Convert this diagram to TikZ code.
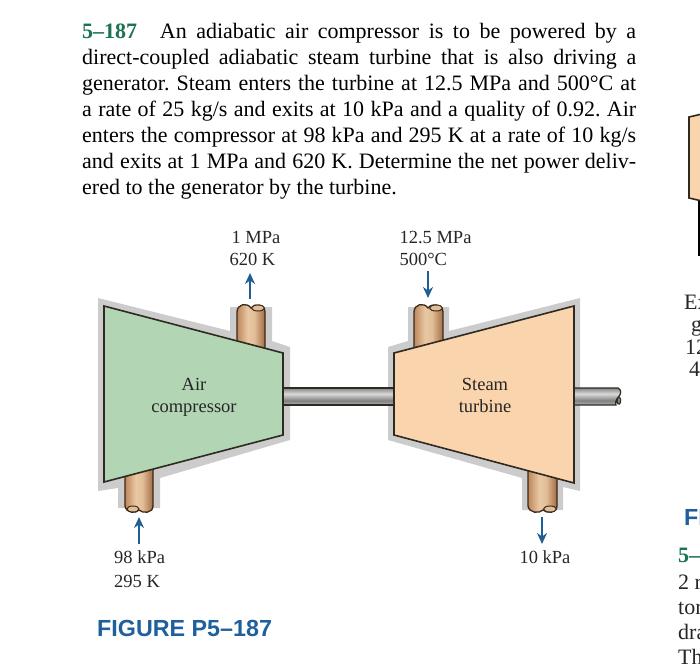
\documentclass[tikz,border=0pt]{standalone}
\usepackage{fontspec}
\setmainfont{Liberation Serif}
\newfontfamily\figfont{Liberation Sans}
\usetikzlibrary{arrows.meta}
\definecolor{probgreen}{HTML}{1B7350}
\definecolor{figblue}{HTML}{1F5F9E}
\definecolor{flowblue}{HTML}{1F5F94}
\definecolor{aircolor}{HTML}{B2D5B4}
\definecolor{steamcolor}{HTML}{FAD4AC}
\definecolor{backgray}{HTML}{CCCCCC}
\definecolor{outline}{HTML}{2E2A22}
\definecolor{pipeedge}{HTML}{3A2A1C}
\definecolor{mouthcolor}{HTML}{E2BE98}
\definecolor{pipeleft}{HTML}{BE8659}
\definecolor{pipelight}{HTML}{E8C8A4}
\definecolor{piperight}{HTML}{A46C42}
\pgfdeclarehorizontalshading{pipeshade}{100bp}{
    color(0bp)=(pipeleft); color(25bp)=(pipeleft);
    color(44bp)=(pipelight); color(56bp)=(pipelight!85!pipeleft);
    color(75bp)=(piperight); color(100bp)=(piperight)}
\pgfdeclareverticalshading{shaftshade}{100bp}{
    color(0bp)=(gray!60); color(25bp)=(gray!60); color(38bp)=(gray!100);
    color(58bp)=(gray!30); color(75bp)=(gray!95); color(100bp)=(gray!95)}
\tikzset{
    bodytext/.style={inner sep=0pt, font=\fontsize{22}{26}\selectfont},
    sidetext/.style={inner sep=0pt, anchor=base west, font=\fontsize{22}{26}\selectfont, text=black!85},
    datalabel/.style={inner sep=0pt, align=left, text=black!85, font=\fontsize{18.5}{22}\selectfont},
    bodylabel/.style={inner sep=0pt, align=center, text=black!85, font=\fontsize{18.5}{22}\selectfont},
    figtext/.style={inner sep=0pt, anchor=west, text=figblue, font=\figfont\bfseries\fontsize{23.3}{24}\selectfont},
    backing/.style={fill=backgray, draw=none},
    machine/.style={draw=outline, line width=1.6pt, line join=miter},
    pipe/.style={draw=pipeedge, line width=1.3pt, shading=pipeshade},
    pipemouth/.style={draw=pipeedge, line width=1pt, fill=mouthcolor},
    shaft/.style={draw=outline, line width=1.2pt, shading=shaftshade},
    flow/.style={-{Stealth[length=11pt,width=10pt]}, draw=flowblue, line width=2pt}
}
\begin{document}
\begin{tikzpicture}[x=1pt, y=-1pt]
    \useasboundingbox (0, 0) rectangle (700, 668);
    \clip (0, 0) rectangle (700, 668);

    \node[bodytext, anchor=north west, text width=554pt, align=justify] (problem) at (82, 23) {%
        \frenchspacing
        {\bfseries\color{probgreen}5–187}\hspace{0.6em} An adiabatic air compressor is to be powered by a\linebreak
        direct-coupled adiabatic steam turbine that is also driving a\linebreak
        generator. Steam enters the turbine at 12.5 MPa and 500°C at\linebreak
        a rate of 25 kg/s and exits at 10 kPa and a quality of 0.92. Air\linebreak
        enters the compressor at 98 kPa and 295 K at a rate of 10 kg/s\linebreak
        and exits at 1 MPa and 620 K. Determine the net power deliv-\linebreak
        ered to the generator by the turbine.};

    \fill[backing] (98, 298) -- (230, 331) -- (230, 307) -- (272, 307) -- (272, 341) -- (290, 347) -- (290, 440) -- (160, 478) -- (160, 508) -- (118, 508) -- (118, 488) -- (98, 491) -- cycle;
    \fill[backing] (388, 347) -- (408, 341) -- (408, 307) -- (449, 307) -- (449, 331) -- (580, 298) -- (580, 491) -- (563, 487) -- (563, 510) -- (522, 510) -- (522, 478) -- (388, 440) -- cycle;

    \draw[pipe] (237, 352) -- (237, 312) .. controls (237, 304) and (247, 302) .. (251, 308) .. controls (254, 303) and (265, 304) .. (265, 312) -- (265, 352);
    \draw[pipemouth] (258, 308) ellipse (6.5 and 3);
    \draw[pipe] (125, 470) -- (125, 506) .. controls (126, 513) and (136, 514) .. (139, 510) .. controls (143, 514) and (153, 513) .. (153, 506) -- (153, 470);
    \draw[pipemouth] (133, 509) ellipse (6 and 3);
    \draw[pipe] (414, 352) -- (414, 312) .. controls (414, 304) and (424, 302) .. (428, 308) .. controls (431, 303) and (443, 304) .. (443, 312) -- (443, 352);
    \draw[pipemouth] (436, 308) ellipse (6.5 and 3);
    \draw[pipe] (528, 470) -- (528, 506) .. controls (529, 513) and (539, 514) .. (543, 510) .. controls (547, 514) and (557, 513) .. (557, 506) -- (557, 470);
    \draw[pipemouth] (550, 509) ellipse (6.5 and 3);

    \draw[shaft] (283, 388) rectangle (395, 405);
    \draw[shaft] (574, 405) -- (574, 388) -- (618, 388) .. controls (622, 390) and (621, 394) .. (618.5, 397) .. controls (616, 400) and (617, 405) .. (619.5, 404) .. controls (622, 402) and (620, 396) .. (618.5, 397) .. controls (616, 399) and (615, 403) .. (616, 405) -- cycle;

    \draw[machine, fill=aircolor] (104, 306) -- (283, 353) -- (283, 435) -- (104, 482) -- cycle;
    \draw[machine, fill=steamcolor] (394, 353) -- (574, 306) -- (574, 483) -- (394, 435) -- cycle;

    \node[bodylabel] (compressor) at (194, 397) {Air\\compressor};
    \node[bodylabel] (turbine) at (485, 395) {Steam\\turbine};

    \node[datalabel, anchor=center] (airout) at (255, 248) {\hspace*{2pt}1 MPa\\620 K};
    \node[datalabel, anchor=center] (steamin) at (435.5, 248) {12.5 MPa\\500°C};
    \node[datalabel, anchor=north west] (airin) at (114, 550) {98 kPa\\[2pt]295 K};
    \node[datalabel, anchor=center] (steamout) at (545, 557) {10 kPa};

    \coordinate (airouttail) at (250, 299);
    \coordinate (airouttip) at (250, 273);
    \coordinate (steamintail) at (428, 271);
    \coordinate (steamintip) at (428, 298);
    \coordinate (airintail) at (139, 544);
    \coordinate (airintip) at (139, 517);
    \coordinate (steamouttail) at (542, 517);
    \coordinate (steamouttip) at (542, 544);
    \draw[flow] (airouttail) -- (airouttip);
    \draw[flow] (steamintail) -- (steamintip);
    \draw[flow] (airintail) -- (airintip);
    \draw[flow] (steamouttail) -- (steamouttip);

    \node[figtext] (figlabel) at (97, 628) {FIGURE P5–187};

    \draw[machine, fill=steamcolor] (689, 117) -- (702, 114) -- (702, 201) -- (689, 198) -- cycle;
    \draw[draw=black, line width=1.5pt] (699, 201) -- (699, 256);

    \node[sidetext] (sideex) at (684, 309) {Ex};
    \node[sidetext] (sideg) at (691, 331) {g};
    \node[sidetext] (sidetwelve) at (685, 354) {12};
    \node[sidetext] (sidefour) at (689, 376) {4(};
    \node[figtext] (sidefig) at (684, 517) {FI};
    \node[sidetext, font=\bfseries\fontsize{22}{26}\selectfont, text=probgreen] (sidenum) at (678, 562) {5–};
    \node[sidetext] (sidetwo) at (678, 589) {2 r};
    \node[sidetext] (sidetor) at (678, 614) {tor};
    \node[sidetext] (sidedra) at (678, 639) {dra};
    \node[sidetext] (sideth) at (678, 664) {Th};
\end{tikzpicture}
\end{document}
